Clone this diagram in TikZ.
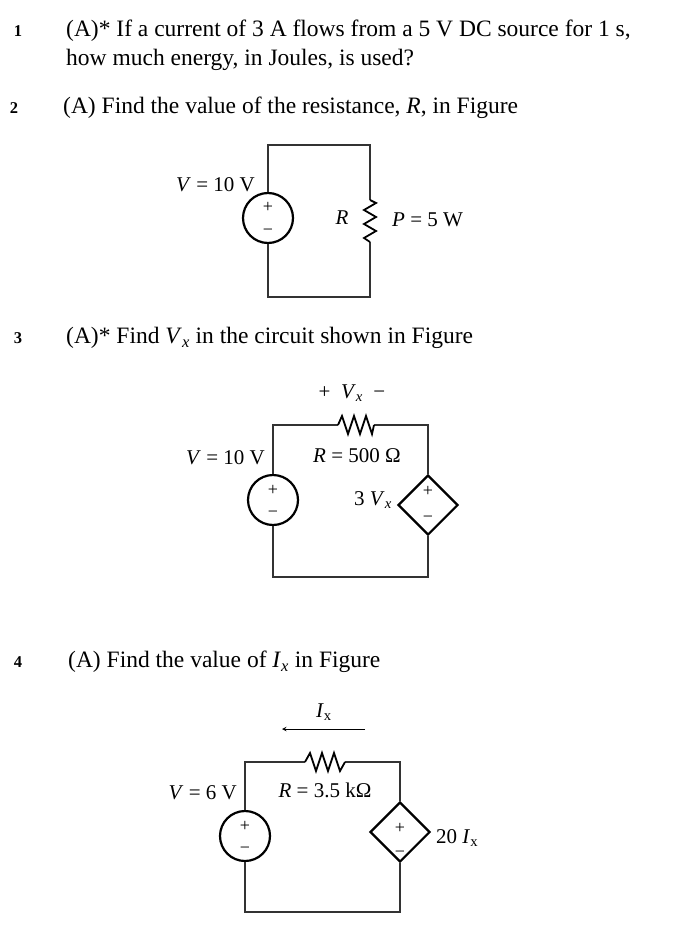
\documentclass[tikz,border=0pt]{standalone}
\usepackage{fontspec}
\setmainfont{Liberation Serif}
\usetikzlibrary{shapes.geometric}
\newcommand{\sbx}{\textsubscript{\textit{x}}}
\newcommand{\sbr}{\textsubscript{x}}
\begin{document}
\begin{tikzpicture}[x=1pt,y=-1pt,
  txt/.style={font=\fontsize{23.5}{28}\selectfont,inner sep=0pt},
  lab/.style={font=\fontsize{21}{25}\selectfont,inner sep=0pt},
  num/.style={font=\fontsize{16.5}{19}\selectfont\bfseries,inner sep=0pt},
  wire/.style={draw=black!80,line width=1.4pt},
  src/.style={circle,draw,line width=2.2pt,minimum size=50pt,inner sep=0pt},
  dep/.style={diamond,draw,line width=2.2pt,minimum size=60pt,inner sep=0pt},
  pm/.style={font=\fontsize{18}{20}\selectfont,inner sep=0pt}]
\path[use as bounding box] (0,0) rectangle (683,950);
% texts
\node[num] (n1) at (18,31) {1};
\node[txt,anchor=west] (t1a) at (66,31) {(A)* If a current of 3 A flows from a 5 V DC source for 1 s,};
\node[txt,anchor=west] (t1b) at (66,60) {how much energy, in Joules, is used?};
\node[num] (n2) at (14,108) {2};
\node[txt,anchor=west] (t2) at (63,108) {(A) Find the value of the resistance, \textit{R}, in Figure};
\node[num] (n3) at (18,338) {3};
\node[txt,anchor=west] (t3) at (66,338) {(A)* Find \textit{V}\sbx{} in the circuit shown in Figure};
\node[num] (n4) at (18,662) {4};
\node[txt,anchor=west] (t4) at (68,662) {(A) Find the value of \textit{I}\sbx{} in Figure};
% circuit 1
\node[src] (s1) at (268,218) {};
\node[pm] at (268,207) {+}; \node[pm] at (268,232) {−};
\coordinate (r1a) at (370,200); \coordinate (r1b) at (370,242);
\draw[wire] (s1.north) -- (268,145) -- (370,145) -- (r1a);
\draw[wire] (s1.south) -- (268,297) -- (370,297) -- (r1b);
\draw[line width=1.8pt] (r1a) -- (376,203) -- (364,210) -- (376,217) -- (364,224) -- (376,231) -- (364,238) -- (r1b);
\node[lab,anchor=east] (l1a) at (255,185) {\textit{V} = 10 V};
\node[lab] (l1b) at (342,218) {\textit{R}};
\node[lab,anchor=west] (l1c) at (392,220) {\textit{P} = 5 W};
% circuit 2
\node[src] (s2) at (273,500) {};
\node[pm] at (273,490) {+}; \node[pm] at (273,514) {−};
\node[dep] (d2) at (428,505) {};
\node[pm] at (428,491) {+}; \node[pm] at (428,519) {−};
\coordinate (r2a) at (338,425); \coordinate (r2b) at (374,425);
\draw[wire] (s2.north) -- (273,425) -- (r2a);
\draw[wire] (r2b) -- (428,425) -- (d2.north);
\draw[wire] (s2.south) -- (273,577) -- (428,577) -- (d2.south);
\draw[line width=1.8pt] (r2a) -- (342,416) -- (348,434) -- (354,416) -- (360,434) -- (366,416) -- (372,434) -- (r2b);
\node[lab] (l2a) at (352,393) {+ \ \textit{V}\sbx{} \ −};
\node[lab,anchor=east] (l2b) at (265,458) {\textit{V} = 10 V};
\node[lab] (l2c) at (357,456) {\textit{R} = 500 Ω};
\node[lab,anchor=east] (l2d) at (392,500) {3 \textit{V}\sbx};
% circuit 3
\node[src] (s3) at (245,836) {};
\node[pm] at (245,826) {+}; \node[pm] at (245,850) {−};
\node[dep] (d3) at (400,832) {};
\node[pm] at (400,828) {+}; \node[pm] at (400,854) {−};
\coordinate (r3a) at (305,762); \coordinate (r3b) at (345,762);
\draw[wire] (s3.north) -- (245,762) -- (r3a);
\draw[wire] (r3b) -- (400,762) -- (d3.north);
\draw[wire] (s3.south) -- (245,912) -- (400,912) -- (d3.south);
\draw[line width=1.8pt] (r3a) -- (310,753) -- (316,771) -- (322,753) -- (328,771) -- (334,753) -- (340,771) -- (r3b);
\coordinate (a3a) at (365,729); \coordinate (a3b) at (282,729);
\draw[line width=1pt,-stealth] (a3a) -- (a3b);
\node[lab] (l3a) at (324,712) {\textit{I}\sbr};
\node[lab,anchor=east] (l3b) at (237,793) {\textit{V} = 6 V};
\node[lab] (l3c) at (325,790) {\textit{R} = 3.5 kΩ};
\node[lab,anchor=west] (l3d) at (436,838) {20 \textit{I}\sbr};
\end{tikzpicture}
\end{document}
